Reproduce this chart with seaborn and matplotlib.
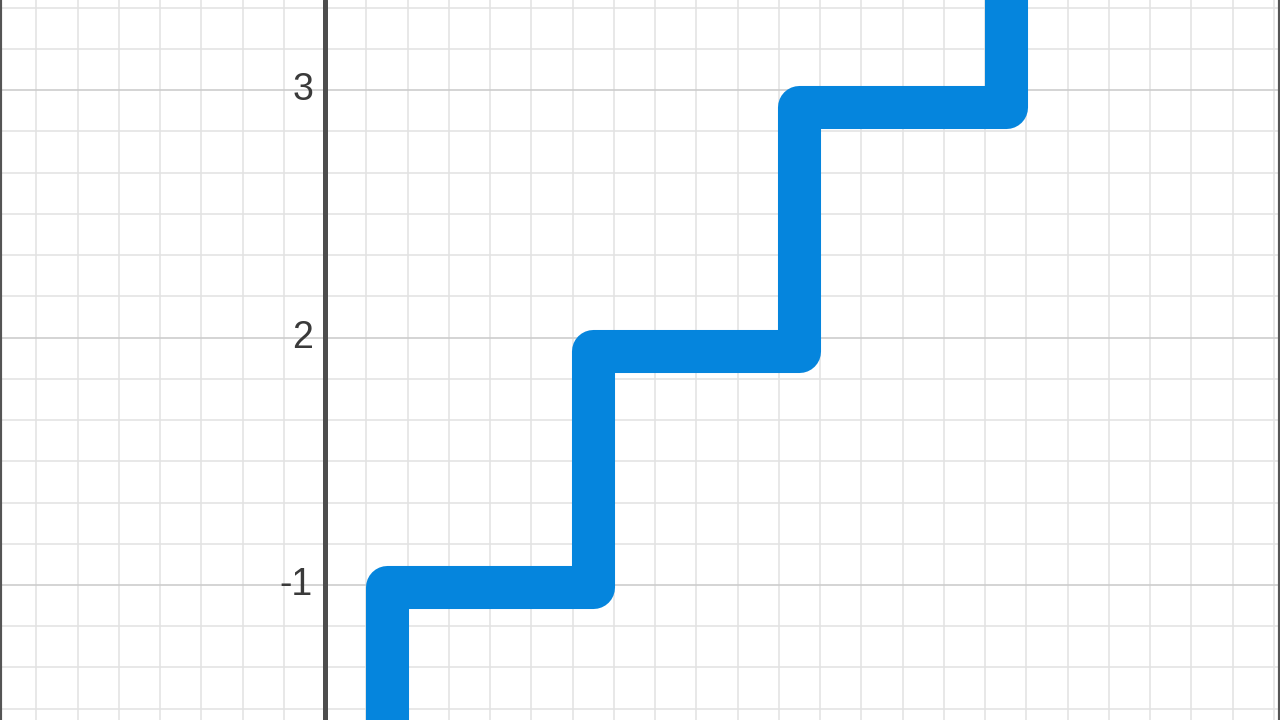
import matplotlib
matplotlib.use("Agg")
import matplotlib.pyplot as plt
import numpy as np
import pandas as pd
import seaborn as sns

# step positions (x) and the levels the staircase climbs through
step_x = [0.3, 1.3, 2.3, 3.3]
step_levels = [0, 0.99, 1.945, 2.93, 4]

# y labels as shown beside the axis
label_values = [3, 2, 1]
label_texts = ["3", "2", "-1"]

x_range = (-1.576, 4.630)
y_range = (0.4545, 3.364)

sns.set_theme(style="white")
plt.rcParams["font.family"] = ["Liberation Sans", "DejaVu Sans"]

fig = plt.figure(figsize=(12.8, 7.2), dpi=100)
ax = fig.add_axes([0, 0, 1, 1])

# grid: 5 minor cells per x unit, 6 per y unit
for gx in np.arange(-2, 5.01, 0.2):
    ax.axvline(gx, color="#e2e2e2", lw=1.1, zorder=0)
for gy in np.arange(0, 4.01, 1 / 6):
    major = abs(gy - round(gy)) < 1e-6
    ax.axhline(gy, color="#cdcdcd" if major else "#e2e2e2",
               lw=1.2 if major else 1.1, zorder=0)

# y axis
ax.axvline(0, color="#4d4d4d", lw=3.6, zorder=1)

# staircase path
path = pd.DataFrame({
    "x": np.repeat(step_x, 2),
    "y": np.repeat(step_levels, 2)[1:-1],
    "order": np.arange(2 * len(step_x)),
})
sns.lineplot(data=path, x="x", y="y", sort=False, estimator=None, ax=ax,
             color="#0585dd", lw=31, solid_joinstyle="round",
             solid_capstyle="round", zorder=3)

for v, t in zip(label_values, label_texts):
    ax.text(-0.058, v, t, ha="right", va="center", fontsize=27,
            color="#3a3a3a", zorder=4)

ax.set_xlim(*x_range)
ax.set_ylim(*y_range)
ax.set_xticks([])
ax.set_yticks([])
ax.set_xlabel("")
ax.set_ylabel("")
for side in ["top", "bottom"]:
    ax.spines[side].set_visible(False)
for side in ["left", "right"]:
    ax.spines[side].set_color("#555555")
    ax.spines[side].set_linewidth(3)

fig.savefig("out.png", dpi=100)
